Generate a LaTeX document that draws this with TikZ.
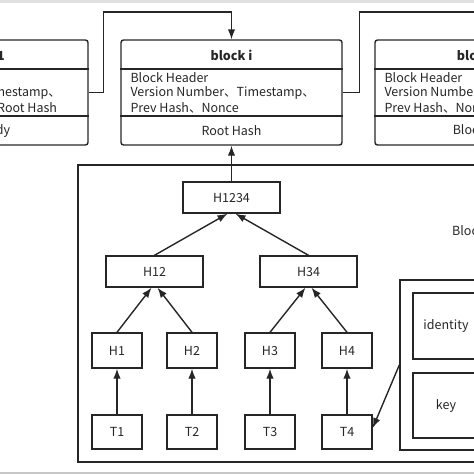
\documentclass[tikz,border=0pt]{standalone}
\usepackage{fontspec}
\setmainfont{Noto Sans CJK SC}
\usetikzlibrary{arrows.meta}
\begin{document}
\begin{tikzpicture}[x=1pt,y=-1pt,
  every node/.style={font=\fontsize{12.5}{14}\selectfont, text=black!85},
  ln/.style={line width=1.4pt, draw=black!85},
  blk/.style={ln, rounded corners=2.5pt, minimum width=221pt, minimum height=105pt, inner sep=0pt},
  hbox/.style={ln, draw, inner sep=0pt, minimum width=#1},
  arr/.style={ln, -{Latex[length=10pt,width=7.5pt]}},
  hdr/.style={anchor=west, inner sep=0pt},
  ttl/.style={inner sep=0pt, font=\bfseries\fontsize{12.5}{14}\selectfont}]
\useasboundingbox (0,0) rectangle (474,474);
\clip (0,0) rectangle (474,474);
\fill[black!12] (0,0) rectangle (474,2.5);
\fill[black!22] (0,472) rectangle (474,474);
% blocks
\foreach \n/\cx/\t/\l/\b in {lb/-22.5/block i-1/Prev Hash、Nonce、Root Hash/Block Body,
                             bi/231.5/block i/Prev Hash、Nonce/Root Hash,
                             rb/485.5/block i+1/Prev Hash、Nonce/Block Body}{
  \node[blk] (\n) at (\cx,92.5) {};
  \draw[ln] (\n.west |- 0,69) -- (\n.east |- 0,69);
  \draw[ln] (\n.west |- 0,116) -- (\n.east |- 0,116);
  \node[ttl] (\n-t) at (\cx,55) {\t};
  \node[hdr] (\n-h1) at ([xshift=10pt]\n.west |- 0,78) {Block Header};
  \node[hdr] (\n-h2) at ([xshift=10pt]\n.west |- 0,93) {Version Number、Timestamp、};
  \node[hdr] (\n-h3) at ([xshift=10pt]\n.west |- 0,108) {\l};
  \node[inner sep=0pt] (\n-b) at (\cx,130.5) {\b};
}
\coordinate (top1) at (231.5,12);
\coordinate (rend) at (480,12);
\draw[arr] (lb.east) -- ++(15,0) |- (top1) -- (bi.north);
\draw[ln] (bi.east) -- ++(17,0) |- (rend);
% block body
\node[ln, draw, minimum width=412pt, minimum height=297pt, inner sep=0pt] (body) at (284,313.5) {};
\node[anchor=west, inner sep=0pt] (bodyl) at (452,232) {Block Body};
% merkle tree
\node[hbox=97pt, minimum height=31pt] (h1234) at (231.5,197.5) {H1234};
\node[hbox=97pt, minimum height=31pt] (h12) at (154.5,271.5) {H12};
\node[hbox=97pt, minimum height=31pt] (h34) at (308.5,271.5) {H34};
\foreach \i/\x in {1/117,2/192,3/270,4/347}{
  \node[hbox=50pt, minimum height=35pt] (h\i) at (\x,350.5) {H\i};
  \node[hbox=50pt, minimum height=34pt] (t\i) at (\x,432) {T\i};
  \draw[arr] (t\i) -- (h\i);
}
\draw[arr] (h1234.north) -- (bi.south);
\draw[arr] (h12.north) -- ([xshift=-4pt]h1234.south);
\draw[arr] (h34.north) -- ([xshift=4pt]h1234.south);
\draw[arr] (h1.north) -- ([xshift=-3pt]h12.south);
\draw[arr] (h2.north) -- ([xshift=3pt]h12.south);
\draw[arr] (h3.north) -- ([xshift=-3pt]h34.south);
\draw[arr] (h4.north) -- ([xshift=3pt]h34.south);
% identity panel
\node[ln, draw, minimum width=100pt, minimum height=170pt, inner sep=0pt] (panel) at (450,365) {};
\node[ln, draw, minimum width=66pt, minimum height=66pt, inner sep=0pt] (idb) at (446,326) {identity};
\node[ln, draw, minimum width=66pt, minimum height=65pt, inner sep=0pt] (keyb) at (446,405.5) {key};
\draw[arr] (panel.west) -- ([yshift=4pt]t4.east);
\end{tikzpicture}
\end{document}
